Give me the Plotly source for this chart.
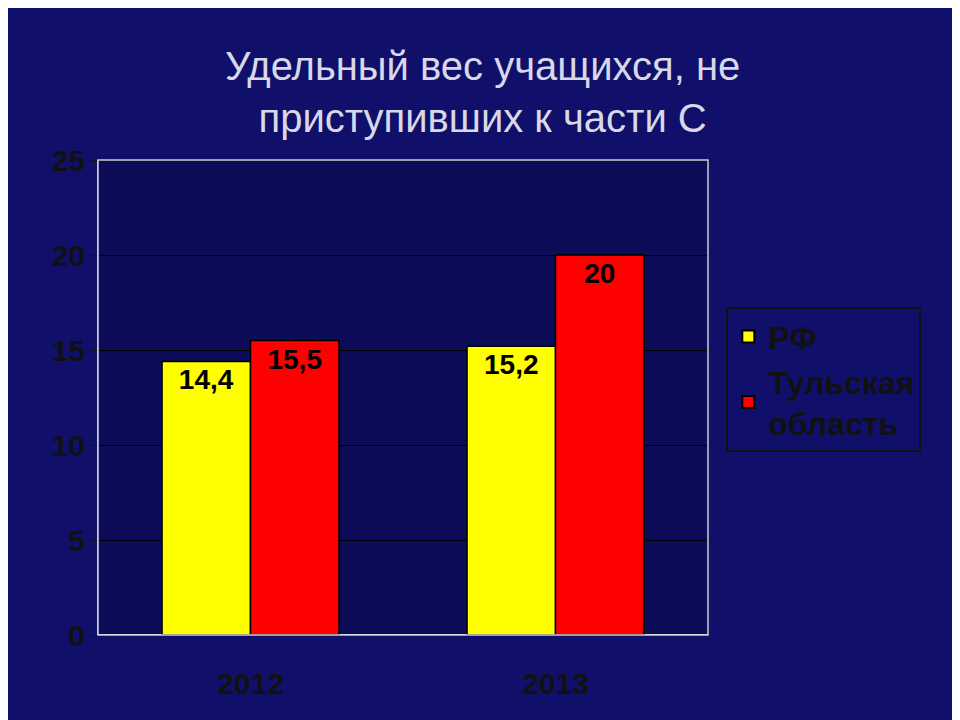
import plotly.graph_objects as go

years = ["2012", "2013"]
rf = [14.4, 15.2]
tula = [15.5, 20]
rf_text = ["14,4", "15,2"]
tula_text = ["15,5", "20"]

fig = go.Figure()
for name, vals, txt, clr in [
    ("<b>РФ</b>", rf, rf_text, "#FFFF00"),
    ("<b>Тульская<br>область</b>", tula, tula_text, "#FF0000"),
]:
    fig.add_trace(go.Bar(
        x=years, y=vals, name=name, text=["<b>%s</b>" % t for t in txt],
        textposition="inside", insidetextanchor="end",
        textfont=dict(color="black", size=28, family="Liberation Sans"),
        marker=dict(color=clr, line=dict(color="black", width=1.5)),
    ))

fig.update_layout(
    width=960, height=720,
    paper_bgcolor="#10106a", plot_bgcolor="#0c0c58",
    barmode="group", bargap=0.42, bargroupgap=0,
    font=dict(family="Liberation Sans", color="#111111"),
    margin=dict(l=90, r=260, t=152, b=93),
    xaxis=dict(tickfont=dict(size=30, color="#111111", weight="bold"), showline=True,
               linecolor="#222222", ticks="", ticklabelstandoff=22),
    yaxis=dict(range=[0, 25], dtick=5, tickfont=dict(size=30, color="#111111", weight="bold"),
               gridcolor="#000000", showline=True, linecolor="#cccccc",
               ticks="outside", ticklen=6, tickcolor="#111111"),
    legend=dict(x=1.03, y=0.69, xanchor="left", yanchor="top",
                bgcolor="rgba(0,0,0,0)", bordercolor="#111111", borderwidth=2,
                font=dict(size=32, color="#111111"), tracegroupgap=45,
                itemsizing="constant"),
    annotations=[dict(
        text="Удельный вес учащихся, не<br>приступивших к части С",
        xref="paper", yref="paper", x=0.63, y=1.143,
        xanchor="center", yanchor="middle", showarrow=False,
        font=dict(size=40, color="#d8d8e8"),
    )],
    shapes=[dict(type="rect", xref="paper", yref="paper", x0=0, x1=1, y0=0, y1=1,
                 line=dict(color="#cccccc", width=1.5))],
)

fig.write_html("out.html")
